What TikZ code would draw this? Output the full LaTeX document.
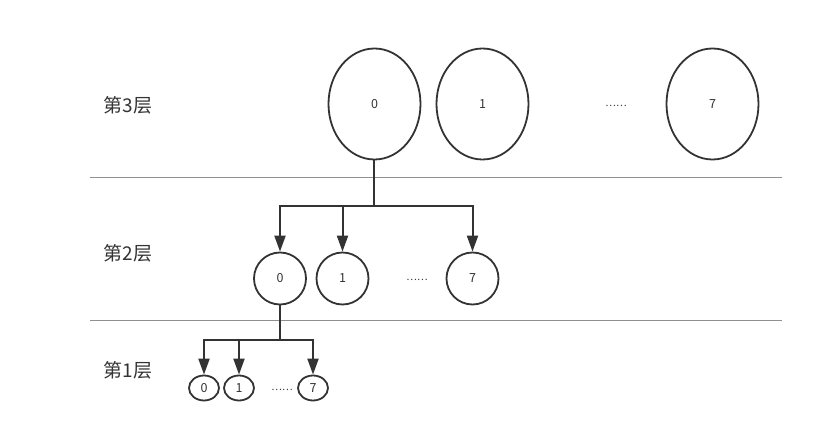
\documentclass[tikz,border=0pt]{standalone}
\usepackage{fontspec}
\setmainfont{Noto Sans CJK SC}
\usetikzlibrary{arrows.meta,shapes.geometric}
\definecolor{ink}{HTML}{333333}
\definecolor{rule}{HTML}{909090}
\begin{document}
\begin{tikzpicture}[x=1pt,y=-1pt,
  big/.style={ellipse,draw=ink,line width=1.8pt,minimum width=92pt,minimum height=111pt,inner sep=0pt,font=\fontsize{12.5}{12.5}\selectfont,text=ink},
  mid/.style={ellipse,draw=ink,line width=1.8pt,minimum width=52pt,minimum height=52pt,inner sep=0pt,font=\fontsize{12.5}{12.5}\selectfont,text=ink},
  small/.style={ellipse,draw=ink,line width=1.8pt,minimum width=30pt,minimum height=25pt,inner sep=0pt,font=\fontsize{12.5}{12.5}\selectfont,text=ink},
  dots/.style={font=\fontsize{10}{10}\selectfont,text=ink,inner sep=0pt},
  lvl/.style={font=\fontsize{19}{19}\selectfont,text=ink,inner sep=0pt},
  conn/.style={draw=ink,line width=2pt},
  arr/.style={conn,-{Triangle[length=16pt,width=11pt]}},
  divider/.style={draw=rule,line width=0.9pt}]
\useasboundingbox (0,0) rectangle (815,433);
% level labels
\node[lvl] (l3) at (128,105) {第3层};
\node[lvl] (l2) at (128,253) {第2层};
\node[lvl] (l1) at (128,370) {第1层};
% dividers
\coordinate (d1a) at (90,177); \coordinate (d1b) at (782,177);
\coordinate (d2a) at (90,320); \coordinate (d2b) at (782,320);
\draw[divider] (d1a) -- (d1b);
\draw[divider] (d2a) -- (d2b);
% level 3
\node[big] (t0) at (374.5,104) {0};
\node[big] (t1) at (482.5,104) {1};
\node[big] (t7) at (712.5,104) {7};
\node[dots] (td) at (616,106) {……};
% level 2
\node[mid] (m0) at (280,278.5) {0};
\node[mid] (m1) at (342.5,278.5) {1};
\node[mid] (m7) at (472.5,278.5) {7};
\node[dots] (md) at (417,280) {……};
% level 1
\node[small] (s0) at (204,388) {0};
\node[small] (s1) at (239,388) {1};
\node[small] (s7) at (313,388) {7};
\node[dots] (sd) at (282,390) {……};
% connectors level 3 -> 2
\coordinate (j3) at (374,206);
\draw[conn] (t0.south -| j3) -- (j3);
\draw[arr] (j3) -| (m0.north);
\draw[arr] (j3) -| (m1.north);
\draw[arr] (j3) -| (m7.north);
% connectors level 2 -> 1
\coordinate (j2) at (280,340);
\draw[conn] (m0.south) -- (j2);
\draw[arr] (j2) -| (s0.north);
\draw[arr] (j2) -| (s1.north);
\draw[arr] (j2) -| (s7.north);
\end{tikzpicture}
\end{document}
